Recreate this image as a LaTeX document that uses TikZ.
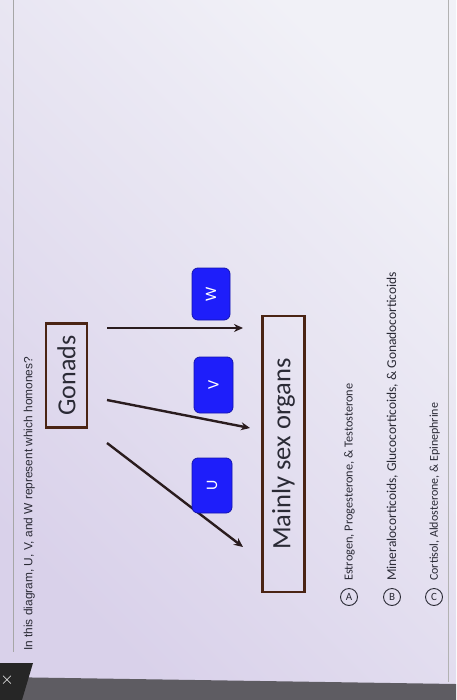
\documentclass[tikz,border=0pt]{standalone}
\usepackage{fontspec}
\setmainfont{Carlito}
\newfontfamily\qfont{Liberation Sans}
\usetikzlibrary{arrows.meta,shadings}
\definecolor{bgtop}{HTML}{F1F1F7}
\definecolor{bgbot}{HTML}{D9D1EA}
\definecolor{boxbrown}{HTML}{4A2414}
\definecolor{arrowc}{HTML}{2A1C1E}
\definecolor{ublue}{HTML}{1E1EFA}
\definecolor{txt}{HTML}{2A2A35}
\definecolor{strip}{HTML}{5E5C62}
\tikzset{
  framebox/.style={draw=boxbrown, line width=2.6pt, fill=none, rotate=90, text=txt, inner sep=0pt},
  letterbox/.style={fill=ublue, draw=ublue!70!black, line width=0.8pt, rounded corners=6pt, text=white, rotate=90, font=\fontsize{16}{16}\selectfont, inner sep=0pt},
  conn/.style={draw=arrowc, line width=2.4pt, -{Stealth[length=9pt,width=8pt]}},
  optcircle/.style={circle, draw=txt, line width=0.9pt, minimum size=17pt, inner sep=0pt, text=txt, font=\fontsize{11}{11}\selectfont},
  opttext/.style={rotate=90, anchor=south west, text=txt, inner sep=0pt}
}
\begin{document}
\begin{tikzpicture}[x=1pt,y=-1pt]
\useasboundingbox (0,0) rectangle (456,700);
% background
\shade[left color=bgbot, right color=bgtop, shading angle=135] (0,0) rectangle (456,700);
% thin guide lines
\draw[gray!70, line width=0.5pt] (13,0) -- (13,652);
\draw[gray!60, line width=0.5pt] (448,0) -- (448,682);
% bottom strip
\fill[strip] (0,677) -- (456,684) -- (456,700) -- (0,700) -- cycle;
\fill[black!85] (0,663) -- (33,663) -- (22,700) -- (0,700) -- cycle;
\node[text=white, font=\fontsize{16}{16}\selectfont\qfont, inner sep=0pt] (close) at (7,680) {$\times$};
% question
\node[rotate=90, anchor=south west, inner sep=0pt, text=txt, font=\fontsize{11.9}{12}\selectfont\qfont] (q) at (35,651) {In this diagram, U, V, and W represent which homones?};
% Gonads box
\node[framebox, minimum width=104pt, minimum height=41pt, font=\fontsize{26}{26}\selectfont] (gonads) at (66.5,375.5) {Gonads};
% sex organs box
\node[framebox, minimum width=276pt, minimum height=42pt, font=\fontsize{26.5}{26.5}\selectfont] (organs) at (283.5,454) {Mainly sex organs};
% arrows
\coordinate (sW) at (107,328);
\coordinate (eW) at (243,328);
\coordinate (sV) at (107,400);
\coordinate (eV) at (250,428);
\coordinate (sU) at (107,443);
\coordinate (eU) at (243,547);
\draw[conn] (sW) -- (eW);
\draw[conn] (sV) -- (eV);
\draw[conn] (sU) -- (eU);
% letter boxes
\node[letterbox, minimum width=52pt, minimum height=38pt] (W) at (211,294) {W};
\node[letterbox, minimum width=56pt, minimum height=39pt] (V) at (213.5,385) {V};
\node[letterbox, minimum width=55pt, minimum height=40pt] (U) at (212,485.5) {U};
% options
\node[optcircle] (A) at (349,597) {A};
\node[optcircle] (B) at (392,597) {B};
\node[optcircle] (C) at (434,597) {C};
\node[opttext, font=\fontsize{12.3}{13}\selectfont] (tA) at (355,581) {Estrogen, Progesterone, \& Testosterone};
\node[opttext, font=\fontsize{13.5}{14}\selectfont] (tB) at (398,581) {Mineralocorticoids, Glucocorticoids, \& Gonadocorticoids};
\node[opttext, font=\fontsize{12}{13}\selectfont] (tC) at (440,581) {Cortisol, Aldosterone, \& Epinephrine};
\end{tikzpicture}
\end{document}
